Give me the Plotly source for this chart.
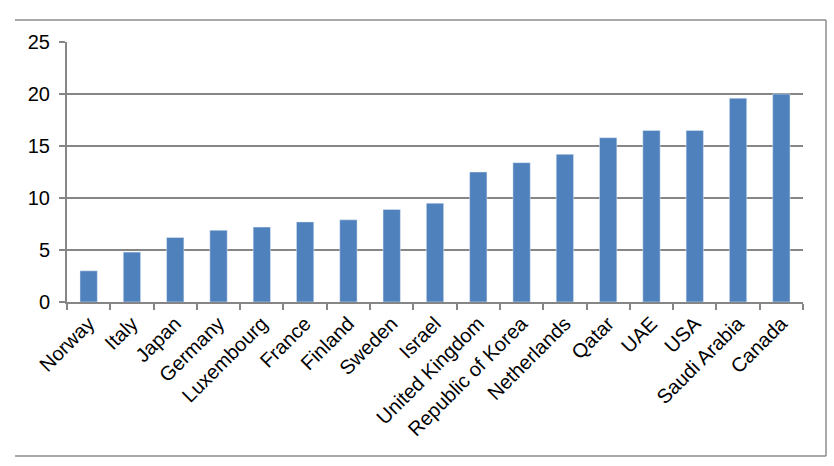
import plotly.graph_objects as go

countries = ["Norway", "Italy", "Japan", "Germany", "Luxembourg", "France", "Finland",
             "Sweden", "Israel", "United Kingdom", "Republic of Korea", "Netherlands",
             "Qatar", "UAE", "USA", "Saudi Arabia", "Canada"]
values = [3.0, 4.8, 6.2, 6.9, 7.2, 7.7, 7.9, 8.9, 9.5, 12.5, 13.4, 14.2, 15.8, 16.5, 16.5, 19.6, 20.0]
y_ticks = [0, 5, 10, 15, 20, 25]

W, H = 834, 466
L, R, T, B = 67, 803, 42, 302

def px(x):
    return (x - L) / (R - L)

def py(y):
    return (B - y) / (B - T)

fig = go.Figure(go.Bar(x=countries, y=values, marker_color="#4F81BD", width=0.4))

grid = "#868686"
fig.update_layout(
    width=W, height=H,
    margin=dict(l=L, r=W - R, t=T, b=H - B),
    paper_bgcolor="white", plot_bgcolor="white",
    font=dict(family="Liberation Sans, Arial, sans-serif", size=20, color="#000000"),
    showlegend=False,
)
fig.update_yaxes(range=[0, 25], tickvals=y_ticks, showgrid=True, gridcolor=grid, gridwidth=2,
                 showline=True, linecolor=grid, linewidth=2, ticks="outside", ticklen=6,
                 tickcolor=grid, tickwidth=2, zeroline=False, tickfont=dict(size=20),
                 ticklabelstandoff=5)
fig.update_xaxes(tickangle=-45, showline=True, linecolor=grid, linewidth=2, ticks="outside",
                 ticklen=6, tickcolor=grid, tickwidth=2, tickson="boundaries", showgrid=False,
                 tickfont=dict(size=20))

bc = "#8c8c8c"
for x0, y0, x1, y1 in [(15, 20, 826, 20), (826, 20, 826, 456), (15, 456, 826, 456)]:
    fig.add_shape(type="line", xref="paper", yref="paper",
                  x0=px(x0), y0=py(y0), x1=px(x1), y1=py(y1),
                  line=dict(color=bc, width=1.5))

fig.write_html("out.html")
